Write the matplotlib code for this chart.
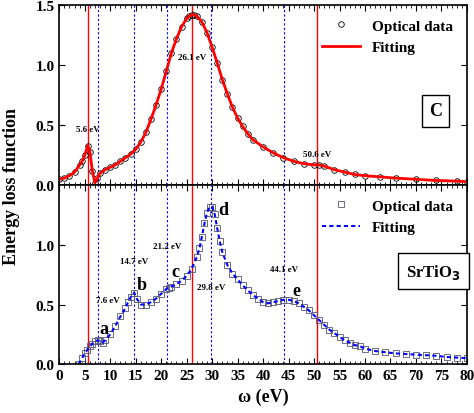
import matplotlib
matplotlib.use("Agg")
import matplotlib.pyplot as plt

plt.rcParams['font.family'] = ['Liberation Serif', 'DejaVu Serif']
plt.rcParams['font.weight'] = 'bold'

c_x = [0,1,2,3,4,4.5,5,5.6,6,6.5,7,7.5,8,9,10,11,12,13,14,15,16,17,18,19,20,21,22,23,24,25,25.5,26,26.5,27,28,29,30,31,32,33,34,35,36,37,38,40,42,44,46,48,50,51,52,54,56,58,60,63,66,70,74,78,80]
c_y = [0.05,0.06,0.08,0.11,0.17,0.2,0.25,0.33,0.28,0.12,0.02,0.06,0.1,0.13,0.15,0.17,0.2,0.23,0.26,0.3,0.36,0.44,0.55,0.67,0.8,0.95,1.1,1.22,1.32,1.39,1.41,1.42,1.42,1.41,1.36,1.27,1.15,1.02,0.88,0.76,0.65,0.56,0.49,0.43,0.38,0.32,0.27,0.23,0.2,0.18,0.17,0.17,0.16,0.13,0.11,0.09,0.08,0.07,0.06,0.05,0.04,0.035,0.03]

s_x = [3.8,4.5,5,5.5,6,6.5,7,7.6,8,8.5,9,10,11,12,13,13.5,14,14.7,15.2,16,17,18,19,20,21,21.5,22,23,24,25,26,27,27.5,28,28.5,29,29.5,30,30.5,31,31.5,32,33,34,35,36,37,38,39,40,41,42,43,44,45,46,47,48,49,50,51,52,53,54,55,56,57,58,59,60,62,64,66,68,70,72,74,76,78,80]
s_y = [0.0,0.05,0.09,0.12,0.15,0.17,0.19,0.2,0.19,0.18,0.2,0.25,0.32,0.4,0.47,0.52,0.56,0.6,0.55,0.5,0.5,0.52,0.55,0.59,0.63,0.64,0.65,0.67,0.7,0.74,0.8,0.9,0.97,1.07,1.18,1.27,1.32,1.32,1.26,1.14,1.03,0.94,0.83,0.76,0.71,0.66,0.62,0.58,0.55,0.52,0.51,0.52,0.53,0.54,0.54,0.53,0.51,0.48,0.45,0.41,0.37,0.33,0.29,0.26,0.23,0.2,0.18,0.16,0.15,0.13,0.11,0.1,0.09,0.085,0.08,0.075,0.07,0.06,0.055,0.05]

top_red = [5.6, 26.1, 50.6]
bot_blue = [7.6, 14.7, 21.2, 29.8, 44.1]
xticks = list(range(0, 81, 5))

fig = plt.figure(figsize=(4.74, 4.14), dpi=100)
ax1 = fig.add_axes([0.125, 0.55, 0.86, 0.435])
ax2 = fig.add_axes([0.125, 0.118, 0.86, 0.432], sharex=ax1)

for ax in (ax1, ax2):
    for v in top_red:
        ax.axvline(v, color='red', lw=1)
    for v in bot_blue:
        ax.axvline(v, color='blue', lw=0.8, ls=(0, (2, 2)))
    ax.set_xlim(0, 80)
    ax.set_ylim(0, 1.5)
    ax.set_xticks(xticks)
    ax.set_xticks(range(0, 81, 1), minor=True)
    ax.tick_params(direction='in', which='both', top=True, right=True, labelsize=11)
    ax.tick_params(which='major', length=4)
    ax.tick_params(which='minor', length=2)
    for s in ax.spines.values():
        s.set_linewidth(1.2)

ax1.plot(c_x, c_y, 'o', ms=4, mfc='none', mec='black', mew=0.6, label='Optical data')
ax1.plot(c_x, c_y, '-', color='red', lw=2, label='Fitting')
ax1.set_yticks([0, 0.5, 1.0, 1.5])
ax1.set_yticklabels(['0.0', '0.5', '1.0', '1.5'])
ax1.tick_params(labelbottom=False)
ax1.legend(loc='upper right', frameon=False, fontsize=11, handlelength=2.5)
for x, y, t in [(5.6, 0.45, '5.6 eV'), (26.1, 1.05, '26.1 eV'), (50.6, 0.24, '50.6 eV')]:
    ax1.text(x, y, t, fontsize=6.5, ha='center')
ax1.text(73.8, 0.62, 'C', fontsize=13, ha='center', va='center',
         bbox=dict(boxstyle='square,pad=0.4', fc='white', ec='black', lw=1))

ax2.plot(s_x, s_y, 's', ms=4, mfc='none', mec='#555577', mew=0.6, label='Optical data')
ax2.plot(s_x, s_y, ls=(0, (2, 1.5)), color='blue', lw=1.5, label='Fitting')
ax2.set_yticks([0, 0.5, 1.0])
ax2.set_yticklabels(['0.0', '0.5', '1.0'])
ax2.legend(loc='upper right', frameon=False, fontsize=11, handlelength=2.5)
for x, y, t in [(9.5, 0.52, '7.6 eV'), (14.7, 0.85, '14.7 eV'), (21.2, 0.97, '21.2 eV'),
                (29.8, 0.63, '29.8 eV'), (44.1, 0.78, '44.1 eV')]:
    ax2.text(x, y, t, fontsize=6.5, ha='center')
for x, y, t in [(8.8, 0.3, 'a'), (16.2, 0.67, 'b'), (22.8, 0.78, 'c'), (32.2, 1.3, 'd'), (46.5, 0.62, 'e')]:
    ax2.text(x, y, t, fontsize=13, ha='center', va='center')
ax2.text(73.5, 0.78, 'SrTiO$_\\mathbf{3}$', fontsize=12, ha='center', va='center',
         bbox=dict(boxstyle='square,pad=0.5', fc='white', ec='black', lw=1))
ax2.set_xlabel('ω (eV)', fontsize=13, fontweight='bold')
fig.text(0.025, 0.55, 'Energy loss function', rotation=90, fontsize=13, va='center', ha='center', fontweight='bold')

fig.savefig('out.png', dpi=100)
